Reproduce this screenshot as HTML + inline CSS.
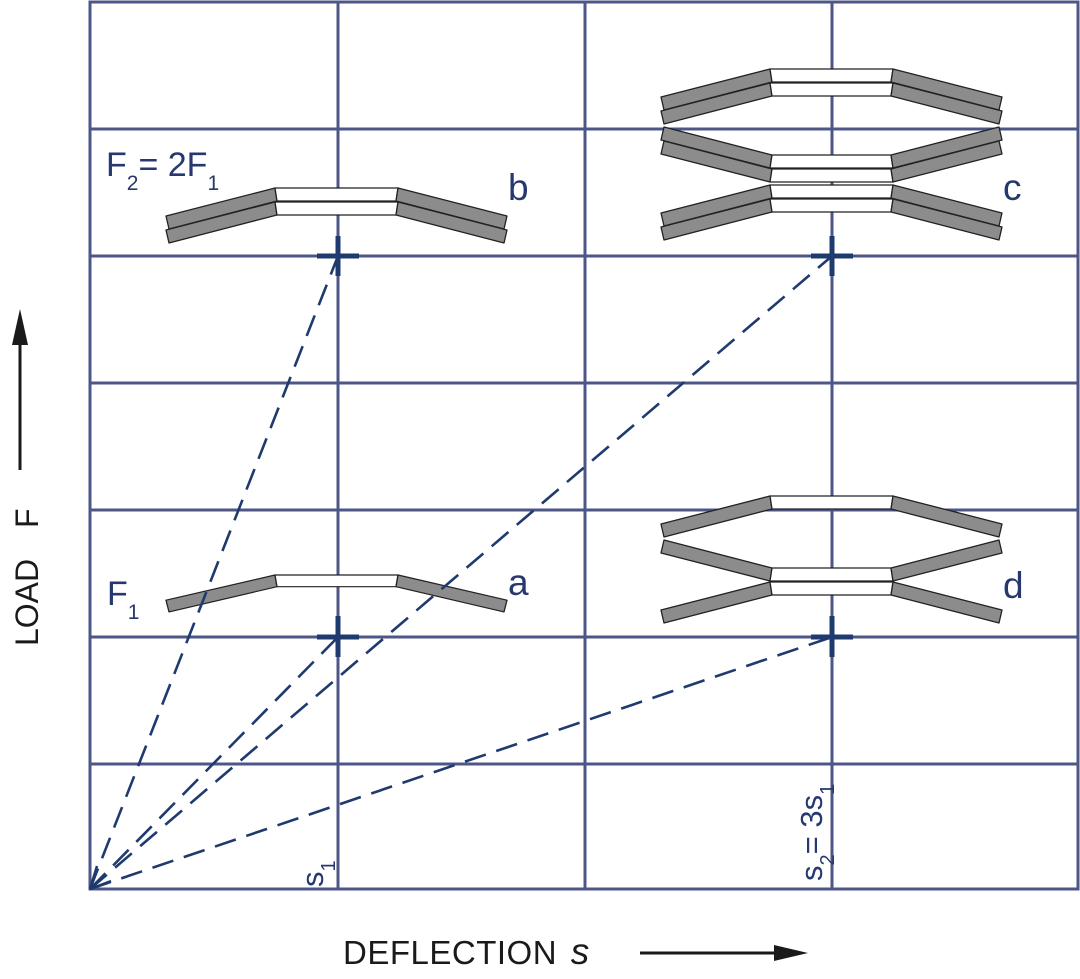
<!DOCTYPE html>
<html><head><meta charset="utf-8"><style>
html,body{margin:0;padding:0;background:#fff;}
svg{display:block;}
</style></head><body>
<svg width="1080" height="979" viewBox="0 0 1080 979" xmlns="http://www.w3.org/2000/svg">
<defs>
<g id="u" stroke="#222" stroke-width="1.3" stroke-linejoin="round">
<polygon points="0,28 109,0 111,13 3,41" fill="#8c8c8c"/>
<polygon points="109,0 232,0 230,13 111,13" fill="#fff"/>
<polygon points="232,0 341,28 338,41 230,13" fill="#8c8c8c"/>
</g>
<g id="d" stroke="#222" stroke-width="1.3" stroke-linejoin="round">
<polygon points="3,0 111,28 109,41 0,13" fill="#8c8c8c"/>
<polygon points="111,28 230,28 232,41 109,41" fill="#fff"/>
<polygon points="230,28 338,0 341,13 232,41" fill="#8c8c8c"/>
</g>
</defs>
<g stroke="#4d5787" stroke-width="3" fill="none">
<rect x="90" y="2" width="988" height="887"/>
<line x1="338" y1="2" x2="338" y2="889"/>
<line x1="585" y1="2" x2="585" y2="889"/>
<line x1="832" y1="2" x2="832" y2="889"/>
<line x1="90" y1="129" x2="1078" y2="129"/>
<line x1="90" y1="256" x2="1078" y2="256"/>
<line x1="90" y1="383" x2="1078" y2="383"/>
<line x1="90" y1="510" x2="1078" y2="510"/>
<line x1="90" y1="637" x2="1078" y2="637"/>
<line x1="90" y1="764" x2="1078" y2="764"/>
</g>
<use href="#u" transform="translate(166,575) scale(1,0.9)"/>
<use href="#u" transform="translate(166,188)"/>
<use href="#u" transform="translate(166,202)"/>
<use href="#u" transform="translate(661,69)"/>
<use href="#u" transform="translate(661,83)"/>
<use href="#d" transform="translate(661,127)"/>
<use href="#d" transform="translate(661,141)"/>
<use href="#u" transform="translate(661,185)"/>
<use href="#u" transform="translate(661,199)"/>
<use href="#u" transform="translate(661,496)"/>
<use href="#d" transform="translate(661,540)"/>
<use href="#u" transform="translate(661,582)"/>
<g stroke="#1f3a6e" stroke-width="2.6" stroke-dasharray="22 11" fill="none">
<line x1="90" y1="889" x2="338" y2="256"/>
<line x1="90" y1="889" x2="832" y2="256"/>
<line x1="90" y1="889" x2="338" y2="637"/>
<line x1="90" y1="889" x2="832" y2="637"/>
</g>
<g stroke="#1f3a6e" stroke-width="2.5" fill="none">
<line x1="90" y1="889" x2="97" y2="866"/>
<line x1="90" y1="889" x2="111" y2="881"/>
</g>
<g stroke="#1f3a6e" stroke-width="5">
<line x1="317" y1="256" x2="359" y2="256"/><line x1="338" y1="236" x2="338" y2="276"/>
<line x1="811" y1="256" x2="853" y2="256"/><line x1="832" y1="236" x2="832" y2="276"/>
<line x1="317" y1="637" x2="359" y2="637"/><line x1="338" y1="616" x2="338" y2="657"/>
<line x1="811" y1="637" x2="853" y2="637"/><line x1="832" y1="616" x2="832" y2="657"/>
</g>
<g font-family="Liberation Sans, sans-serif" fill="#27386e">
<text x="106" y="176" font-size="34">F<tspan font-size="21" dy="14">2</tspan><tspan dy="-14">= 2F</tspan><tspan font-size="21" dy="14">1</tspan></text>
<text x="508" y="200" font-size="37">b</text>
<text x="1003" y="200" font-size="37">c</text>
<text x="508" y="595" font-size="37">a</text>
<text x="1003" y="598" font-size="37">d</text>
<text x="107" y="605" font-size="34">F<tspan font-size="21" dy="14">1</tspan></text>
<text transform="translate(323,887) rotate(-90)" font-size="31">s<tspan font-size="20" dy="12">1</tspan></text>
<text transform="translate(822,881) rotate(-90)" font-size="31">s<tspan font-size="20" dy="12">2</tspan><tspan dy="-12">= 3s</tspan><tspan font-size="20" dy="12">1</tspan></text>
</g>
<g font-family="Liberation Sans, sans-serif" fill="#1a1a1a">
<text transform="translate(38,646) rotate(-90)" font-size="32">LOAD</text>
<text transform="translate(38,528) rotate(-90)" font-size="32">F</text>
<text x="343" y="964" font-size="33" letter-spacing="0.5">DEFLECTION <tspan font-style="italic" font-size="37" dx="4">s</tspan></text>
</g>
<g stroke="#1a1a1a" stroke-width="3">
<line x1="20" y1="470" x2="20" y2="325"/>
<line x1="640" y1="953" x2="780" y2="953"/>
</g>
<polygon points="20,309 12,345 28,345" fill="#1a1a1a"/>
<polygon points="808,953 774,945 774,961" fill="#1a1a1a"/>
</svg>
</body></html>
